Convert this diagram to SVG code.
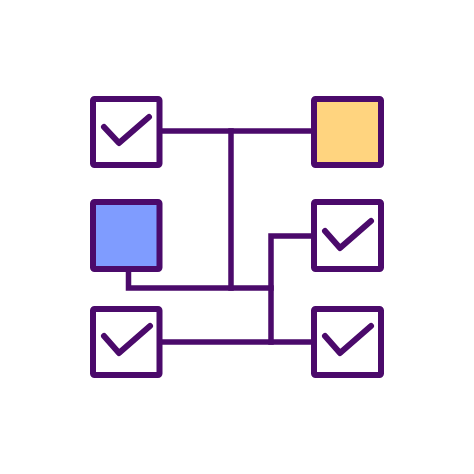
<svg xmlns="http://www.w3.org/2000/svg" width="474" height="474" viewBox="0 0 474 474">
<style>
.box{fill:#fff;stroke:#4b0a6b;stroke-width:6;stroke-linejoin:round}
.chk{fill:none;stroke:#4b0a6b;stroke-width:6;stroke-linecap:round;stroke-linejoin:round}
.wire{fill:none;stroke:#4b0a6b;stroke-width:5.5;stroke-linejoin:miter;stroke-linecap:square}
</style>
<rect width="474" height="474" fill="#fff"/>
<g id="connectors">
<path class="wire" d="M162 131 H311"/>
<path class="wire" d="M231 131 V288"/>
<path class="wire" d="M128.5 272 V288 H271"/>
<path class="wire" d="M271 342 V236 H311"/>
<path class="wire" d="M162 342 H311"/>
</g>
<g id="node-top-left">
<rect class="box" x="93" y="99" width="66.5" height="66" rx="1.5"/>
<path class="chk" d="M104 127 L119 143 L149 117"/>
</g>
<g id="node-top-right">
<rect class="box" x="314" y="99" width="67" height="66" rx="1.5" style="fill:#ffd47f"/>
</g>
<g id="node-mid-left">
<rect class="box" x="93" y="202" width="66.5" height="67" rx="1.5" style="fill:#7f9cff"/>
</g>
<g id="node-mid-right">
<rect class="box" x="314" y="202" width="67" height="67" rx="1.5"/>
<path class="chk" d="M325 231 L340 248 L371 221"/>
</g>
<g id="node-bottom-left">
<rect class="box" x="93" y="309" width="66.5" height="66" rx="1.5"/>
<path class="chk" d="M104 336 L119 353 L150 326"/>
</g>
<g id="node-bottom-right">
<rect class="box" x="314" y="309" width="67" height="66" rx="1.5"/>
<path class="chk" d="M325 336 L340 353 L371 326"/>
</g>
</svg>
